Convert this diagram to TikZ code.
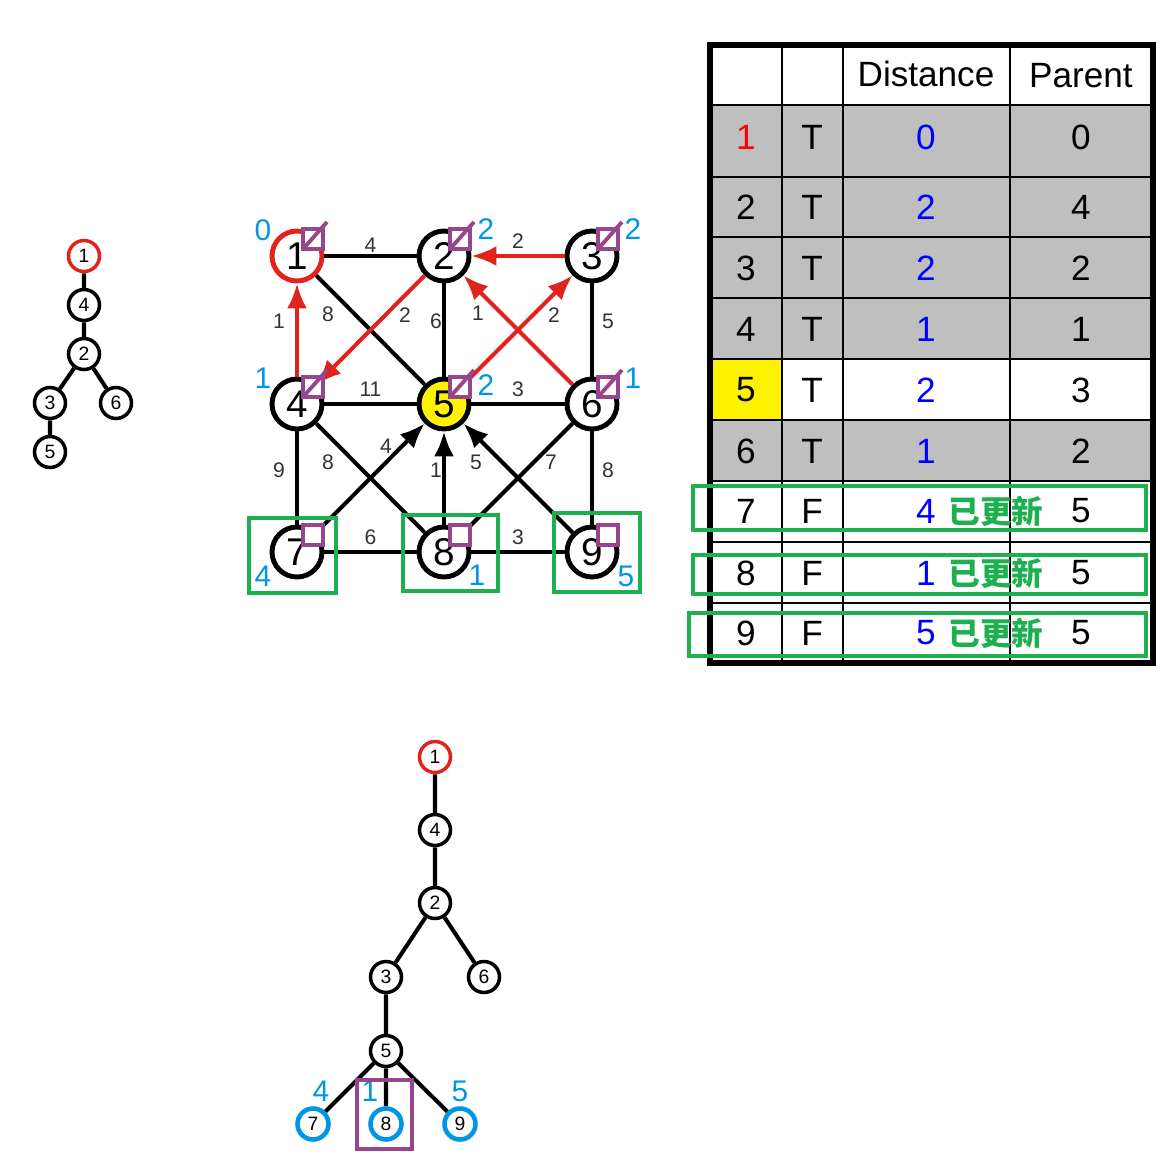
\documentclass[tikz,border=0pt]{standalone}
\usepackage{fontspec}
\setmainfont{Liberation Sans}
\newfontfamily\cjk{Noto Sans CJK SC}
\usetikzlibrary{positioning,arrows.meta}
\definecolor{lblue}{RGB}{0,150,230}
\definecolor{mygreen}{RGB}{30,175,80}
\definecolor{mypurple}{RGB}{150,70,140}
\definecolor{myred}{RGB}{225,35,30}
\begin{document}
\begin{tikzpicture}[x=0.02cm,y=-0.02cm,line width=2.3pt]
            \tikzstyle{big}=[circle,draw,line width=2.8pt,fill=white,minimum size=1cm,inner sep=0pt,font=\fontsize{22}{22}\selectfont]
            \tikzstyle{small}=[circle,draw,line width=2pt,fill=white,minimum size=0.62cm,inner sep=0pt,font=\fontsize{11}{11}\selectfont]
            \tikzstyle{w}=[font=\fontsize{12}{12}\selectfont,text=black!80,inner sep=1pt]
            \tikzstyle{dist}=[font=\fontsize{17}{17}\selectfont,text=lblue,inner sep=0pt]
            \tikzstyle{redarr}=[draw=myred,-{Latex[length=5mm,width=4mm]}]
            \tikzstyle{blkarr}=[draw=black,-{Latex[length=5mm,width=4mm]}]
            \tikzstyle{gbox}=[draw=mygreen,line width=2pt]
            \tikzstyle{cell}=[font=\fontsize{20}{20}\selectfont]
            \useasboundingbox (0,0) rectangle (1165,1167);

            % small tree (left)
            \node[small,draw=myred] (t1) at (84,256) {1};
            \node[small] (t4) at (84,305) {4};
            \node[small] (t2) at (84,354) {2};
            \node[small] (t3) at (50,403) {3};
            \node[small] (t6) at (116,403) {6};
            \node[small] (t5) at (50,452) {5};
            \draw (t1) -- (t4) (t4) -- (t2) (t2) -- (t3) (t2) -- (t6) (t3) -- (t5);

            % graph
            \node[big,draw=myred] (n1) at (297,256) {1};
            \node[big] (n2) at (444,256) {2};
            \node[big] (n3) at (592,256) {3};
            \node[big] (n4) at (297,404) {4};
            \node[big,fill=yellow] (n5) at (444,404) {5};
            \node[big] (n6) at (592,404) {6};
            \node[big] (n7) at (297,552) {7};
            \node[big] (n8) at (444,552) {8};
            \node[big] (n9) at (592,552) {9};
            \draw (n1) -- node[w,above]{4} (n2);
            \draw (n1) -- (n5);
            \draw (n2) -- (n5);
            \draw (n3) -- (n6);
            \draw (n4) -- node[w,above=2pt]{11} (n5);
            \draw (n5) -- node[w,above=2pt]{3} (n6);
            \draw (n4) -- (n7);
            \draw (n4) -- (n8);
            \draw (n6) -- (n8);
            \draw (n6) -- (n9);
            \draw (n7) -- node[w,above=2pt]{6} (n8);
            \draw (n8) -- node[w,above=2pt]{3} (n9);
            \draw[redarr] (n4) -- (n1);
            \draw[redarr] (n3) -- node[w,above=2pt]{2} (n2);
            \draw[redarr] (n2) -- (n4);
            \draw[redarr] (n6) -- (n2);
            \draw[redarr] (n5) -- (n3);
            \draw[blkarr] (n7) -- (n5);
            \draw[blkarr] (n8) -- (n5);
            \draw[blkarr] (n9) -- (n5);
            % edge weights
            \node[w] at (279,321) {1};
            \node[w] at (328,314) {8};
            \node[w] at (405,315) {2};
            \node[w] at (436,321) {6};
            \node[w] at (478,313) {1};
            \node[w] at (554,315) {2};
            \node[w] at (608,321) {5};
            \node[w] at (279,470) {9};
            \node[w] at (328,462) {8};
            \node[w] at (386,446) {4};
            \node[w] at (436,470) {1};
            \node[w] at (476,462) {5};
            \node[w] at (551,462) {7};
            \node[w] at (608,470) {8};
            % marks
            \foreach \n in {1,...,9}
                \draw[mypurple,line width=2.2pt,fill=white] ([shift={(6,-7)}]n\n.center) rectangle ([shift={(26,-27)}]n\n.center);
            \foreach \n in {1,...,6}
                \draw[mypurple,line width=2.2pt] ([shift={(6,-7)}]n\n.center) -- ([shift={(30,-34)}]n\n.center);
            \node[dist] at (263,230) {0};
            \node[dist] at (486,229) {2};
            \node[dist] at (633,229) {2};
            \node[dist] at (263,378) {1};
            \node[dist] at (486,385) {2};
            \node[dist] at (633,378) {1};
            \node[dist] at (263,576) {4};
            \node[dist] at (477,575) {1};
            \node[dist] at (626,576) {5};
            \draw[gbox] (249,518) rectangle (336,593);
            \draw[gbox] (403,515) rectangle (498,591);
            \draw[gbox] (554,513) rectangle (640,592);

            % table
            \fill[black!25] (710,105) rectangle (1153,359);
            \fill[black!25] (710,420) rectangle (1153,481);
            \fill[yellow] (710,359) rectangle (782,420);
            \foreach \y in {105,177,237,298,359,420,481,542,603}
                \draw[line width=1pt] (710,\y) -- (1153,\y);
            \foreach \x in {782,843,1010}
                \draw[line width=1pt] (\x,45) -- (\x,663);
            \draw[line width=3pt] (710,45) rectangle (1153,663);
            \node[cell] at (926,74) {Distance};
            \node[cell] at (1081,76) {Parent};
            \foreach \r/\y/\t/\d/\p in {1/137/T/0/0,2/207/T/2/4,3/268/T/2/2,4/329/T/1/1,5/390/T/2/3,6/451/T/1/2}{
                \node[cell] at (746,\y) {\r};
                \node[cell] at (812,\y) {\t};
                \node[cell,text=blue] at (926,\y) {\d};
                \node[cell] at (1081,\y) {\p};
            }
            \node[cell,text=red,fill=black!25,inner sep=1pt] at (746,137) {1};
            \foreach \r/\y/\d in {7/511/4,8/573/1,9/633/5}{
                \node[cell] at (746,\y) {\r};
                \node[cell] at (812,\y) {F};
                \node[cell,text=blue] at (926,\y) {\d};
                \node[cell,text=mygreen,font=\cjk\bfseries\fontsize{18}{18}\selectfont] at (996,\y) {已更新};
                \node[cell] at (1081,\y) {5};
            }
            \draw[gbox] (693,486) rectangle (1146,530);
            \draw[gbox] (693,555) rectangle (1146,594);
            \draw[gbox] (689,613) rectangle (1146,656);

            % bottom tree
            \node[small,draw=myred] (b1) at (435,757) {1};
            \node[small] (b4) at (435,830) {4};
            \node[small] (b2) at (435,903) {2};
            \node[small] (b3) at (386,977) {3};
            \node[small] (b6) at (484,977) {6};
            \node[small] (b5) at (386,1051) {5};
            \node[small,draw=lblue,line width=2.6pt] (b7) at (313,1124) {7};
            \node[small,draw=lblue,line width=2.6pt] (b8) at (386,1124) {8};
            \node[small,draw=lblue,line width=2.6pt] (b9) at (460,1124) {9};
            \draw (b1) -- (b4) (b4) -- (b2) (b2) -- (b3) (b2) -- (b6) (b3) -- (b5)
                  (b5) -- (b7) (b5) -- (b8) (b5) -- (b9);
            \node[dist] at (321,1091) {4};
            \node[dist] at (370,1091) {1};
            \node[dist] at (460,1091) {5};
            \draw[mypurple,line width=2pt] (357,1080) rectangle (412,1149);
\end{tikzpicture}
\end{document}
